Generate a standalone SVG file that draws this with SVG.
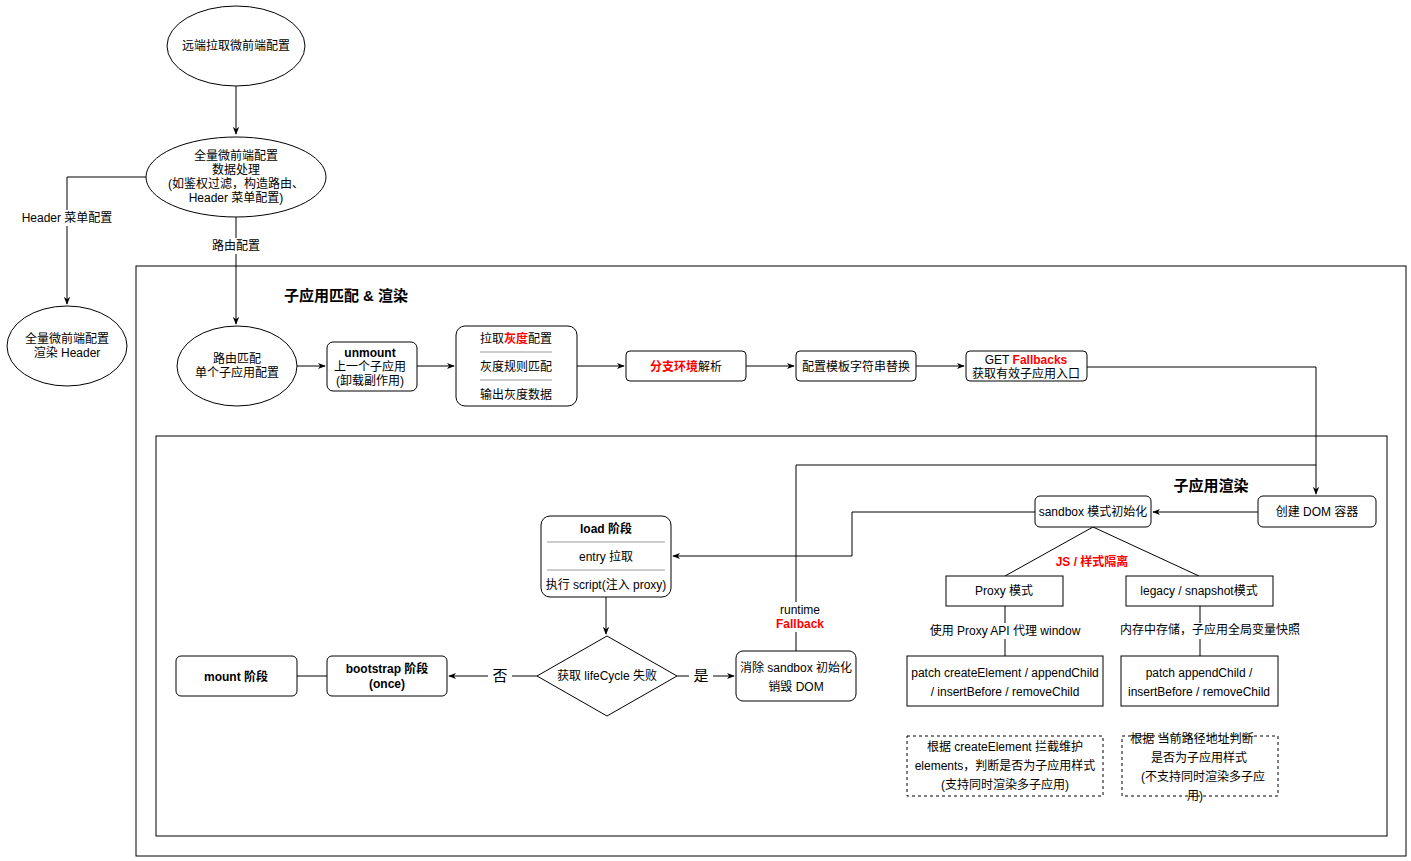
<svg xmlns="http://www.w3.org/2000/svg" width="1411" height="861" viewBox="0 0 1411 861">
<defs>
<marker id="a" viewBox="0 0 10 10" refX="9" refY="5" markerWidth="8" markerHeight="8" orient="auto"><path d="M0,1 L10,5 L0,9 L3,5 Z" fill="#000"/></marker>
<style>
text{font-family:"Liberation Sans","Noto Sans CJK SC",sans-serif;font-size:12px;fill:#000;text-anchor:middle}
.b{font-weight:bold}
.r{fill:#ff0000;font-weight:bold}
.s{fill:#fff;stroke:#000;stroke-width:1}
.d{fill:#fff;stroke:#000;stroke-dasharray:3 3}
.sep{stroke:#999;stroke-width:1}
.c{fill:none;stroke:#000;stroke-width:1}
.t{font-size:15px;font-weight:bold}
.lb{fill:#fff}
</style>
</defs>
<rect width="1411" height="861" fill="#fff"/>
<rect x="136" y="266" width="1270" height="590" fill="none" stroke="#000"/>
<rect x="156" y="436" width="1231" height="400" fill="none" stroke="#000"/>
<text class="t" x="346" y="301">子应用匹配 &amp; 渲染</text>
<text class="t" x="1211" y="491">子应用渲染</text>
<g id="connectors">
<path class="c" d="M236,86 V134" marker-end="url(#a)"/>
<path class="c" d="M146,177 H67 V304" marker-end="url(#a)"/>
<path class="c" d="M236,217 V324" marker-end="url(#a)"/>
<path class="c" d="M297,366 H325" marker-end="url(#a)"/>
<path class="c" d="M417,366 H454" marker-end="url(#a)"/>
<path class="c" d="M577,366 H624" marker-end="url(#a)"/>
<path class="c" d="M746,366 H794" marker-end="url(#a)"/>
<path class="c" d="M916,366 H964" marker-end="url(#a)"/>
<path class="c" d="M1087,367 H1316 V494" marker-end="url(#a)"/>
<path class="c" d="M796,651 V465 H1316"/>
<path class="c" d="M1258,512 H1153" marker-end="url(#a)"/>
<path class="c" d="M1035,512 H852 V556 H673" marker-end="url(#a)"/>
<path class="c" d="M606,597 V634" marker-end="url(#a)"/>
<path class="c" d="M537,676 H449" marker-end="url(#a)"/>
<path class="c" d="M677,676 H734" marker-end="url(#a)"/>
<path class="c" d="M327,676 H297"/>
<path class="c" d="M1093,527 L1005,576 M1093,527 L1199,576"/>
<path class="c" d="M1005,606 V656 M1200,606 V656"/>
<rect class="lb" x="18" y="210" width="98" height="16"/><text x="67" y="222">Header 菜单配置</text>
<rect class="lb" x="210" y="238" width="54" height="16"/><text x="236" y="250">路由配置</text>
<rect class="lb" x="488" y="667" width="24" height="18"/><text x="500" y="681" style="font-size:15px">否</text>
<rect class="lb" x="689" y="667" width="24" height="18"/><text x="701" y="681" style="font-size:15px">是</text>
<rect class="lb" x="774" y="602" width="44" height="30"/><text x="800" y="614">runtime</text><text class="r" x="800" y="628">Fallback</text>
<text class="r" x="1092" y="566">JS / 样式隔离</text>
<rect class="lb" x="926" y="623" width="158" height="16"/><text x="1005" y="635">使用 Proxy API 代理 window</text>
<rect class="lb" x="1119" y="623" width="182" height="16"/><text x="1210" y="634">内存中存储，子应用全局变量快照</text>
</g>
<g id="n1"><ellipse class="s" cx="236" cy="46" rx="69" ry="40"/><text x="236" y="50">远端拉取微前端配置</text></g>
<g id="n2"><ellipse class="s" cx="236" cy="177" rx="90" ry="40"/><text x="236" y="160">全量微前端配置</text><text x="236" y="174">数据处理</text><text x="236" y="188">(如鉴权过滤，构造路由、</text><text x="236" y="202">Header 菜单配置)</text></g>
<g id="n3"><ellipse class="s" cx="67" cy="346" rx="60" ry="40"/><text x="67" y="343">全量微前端配置</text><text x="67" y="357">渲染 Header</text></g>
<g id="n4"><ellipse class="s" cx="237" cy="366" rx="60" ry="40"/><text x="237" y="363">路由匹配</text><text x="237" y="377">单个子应用配置</text></g>
<g id="n5"><rect class="s" x="327" y="342" width="90" height="49" rx="6"/><text class="b" x="370" y="357">unmount</text><text x="370" y="371">上一个子应用</text><text x="370" y="385">(卸载副作用)</text></g>
<g id="n6"><rect class="s" x="456" y="326" width="121" height="80" rx="9"/><text x="516" y="343">拉取<tspan class="r">灰度</tspan>配置</text><line class="sep" x1="480" y1="352" x2="552" y2="352"/><text x="516" y="371">灰度规则匹配</text><line class="sep" x1="480" y1="380" x2="552" y2="380"/><text x="516" y="399">输出灰度数据</text></g>
<g id="n7"><rect class="s" x="626" y="351" width="120" height="30" rx="4"/><text x="686" y="371"><tspan class="r">分支环境</tspan>解析</text></g>
<g id="n8"><rect class="s" x="796" y="351" width="120" height="30" rx="4"/><text x="856" y="371">配置模板字符串替换</text></g>
<g id="n9"><rect class="s" x="966" y="351" width="121" height="30" rx="4"/><text x="1026" y="364">GET <tspan class="r">Fallbacks</tspan></text><text x="1026" y="378">获取有效子应用入口</text></g>
<g id="n10"><rect class="s" x="1258" y="496" width="118" height="31" rx="5"/><text x="1317" y="516">创建 DOM 容器</text></g>
<g id="n11"><rect class="s" x="1035" y="496" width="116" height="31" rx="5"/><text x="1093" y="516">sandbox 模式初始化</text></g>
<g id="n12"><rect class="s" x="946" y="576" width="117" height="30"/><text x="1004" y="595">Proxy 模式</text></g>
<g id="n13"><rect class="s" x="1126" y="576" width="147" height="30"/><text x="1199" y="595">legacy / snapshot模式</text></g>
<g id="n14"><rect class="s" x="907" y="656" width="196" height="50"/><text x="1005" y="677">patch createElement / appendChild</text><text x="1005" y="696">/ insertBefore / removeChild</text></g>
<g id="n15"><rect class="s" x="1121" y="656" width="157" height="50"/><text x="1199" y="677">patch appendChild /</text><text x="1199" y="696">insertBefore / removeChild</text></g>
<g id="n16"><rect class="d" x="907" y="736" width="196" height="60"/><text x="1005" y="751">根据 createElement 拦截维护</text><text x="1005" y="770">elements，判断是否为子应用样式</text><text x="1005" y="789">(支持同时渲染多子应用)</text></g>
<g id="n17"><rect class="d" x="1122" y="736" width="156" height="60"/><text x="1192" y="743">根据 当前路径地址判断</text><text x="1199" y="762">是否为子应用样式</text><text x="1203" y="781">(不支持同时渲染多子应</text><text x="1195" y="800">用)</text></g>
<g id="n18"><rect class="s" x="541" y="516" width="130" height="81" rx="9"/><text class="b" x="606" y="533">load 阶段</text><line class="sep" x1="547" y1="542" x2="665" y2="542"/><text x="606" y="561">entry 拉取</text><line class="sep" x1="547" y1="570" x2="665" y2="570"/><text x="606" y="589">执行 script(注入 proxy)</text></g>
<g id="n19"><path class="s" d="M607,636 L677,676 L607,716 L537,676 Z"/><text x="607" y="680">获取 lifeCycle 失败</text></g>
<g id="n20"><rect class="s" x="736" y="651" width="120" height="50" rx="7"/><text x="796" y="672">消除 sandbox 初始化</text><text x="796" y="691">销毁 DOM</text></g>
<g id="n21"><rect class="s" x="327" y="656" width="120" height="40" rx="5"/><text class="b" x="387" y="673">bootstrap 阶段</text><text class="b" x="387" y="688">(once)</text></g>
<g id="n22"><rect class="s" x="176" y="656" width="121" height="40" rx="5"/><text class="b" x="236" y="681">mount 阶段</text></g>
</svg>
